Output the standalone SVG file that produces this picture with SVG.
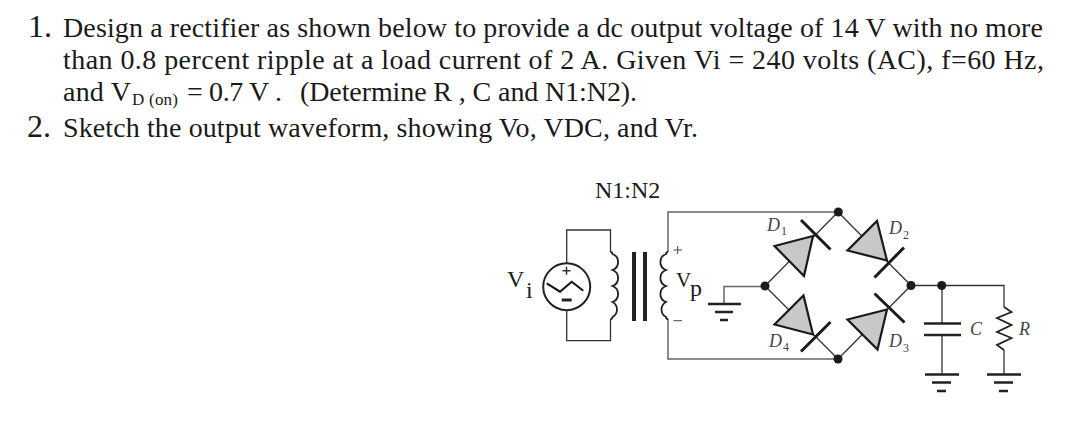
<svg xmlns="http://www.w3.org/2000/svg" width="1073" height="436" viewBox="0 0 1073 436">
<style>
text{font-family:"Liberation Serif","Times New Roman",serif;fill:#1a1a1a}
.t{font-size:28px}
.u{font-size:32px}
.w{fill:none;stroke:#333;stroke-width:1.3}
.c{fill:none;stroke:#222;stroke-width:1.800}
.g{fill:none;stroke:#666;stroke-width:1.500}
.b{fill:none;stroke:#1a1a1a;stroke-width:3}
.d{fill:#c8c8c8;stroke:#1a1a1a;stroke-width:2.200}
.n{fill:#1a1a1a}
.e{fill:none;stroke:#222;stroke-width:2.600}
.i{font-style:italic;font-size:18px;fill:#444}
.s{font-size:12px;fill:#444}
</style>
<rect width="1073" height="436" fill="#fff"/>
<g id="question">
<text class="u" x="28" y="37">1.</text>
<text class="t" x="63" y="37" textLength="980">Design a rectifier as shown below to provide a dc output voltage of 14 V with no more</text>
<text class="t" x="63" y="69" textLength="981">than 0.8 percent ripple at a load current of 2 A. Given Vi = 240 volts (AC), f=60 Hz,</text>
<text class="t" x="63" y="101" textLength="68">and V</text>
<text x="132" y="105" font-size="17" textLength="46">D (on)</text>
<text class="t" x="187" y="101" textLength="95">= 0.7 V .</text>
<text class="t" x="300" y="101" textLength="337">(Determine R , C and N1:N2).</text>
<text class="u" x="27" y="137">2.</text>
<text class="t" x="63" y="137" textLength="635">Sketch the output waveform, showing Vo, VDC, and Vr.</text>
</g>
<g id="connectors">
<path class="w" d="M566.700 263V230H610.500V252M610.500 319V340.700H566.700V311"/>
<path class="g" d="M668 252V212H838M668 319V359H838M724 304V286.500H765"/>
<path class="w" d="M838 212L765 286M838 212L911 285.500M765 286L838 359M838 359L911 285.500M911 285.500H1004V307M1004 350V374M942 285.500V323M942 335V374"/>
</g>
<g id="label-n1n2"><text x="595" y="198" font-size="24">N1:N2</text></g>
<g id="source">
<circle cx="566.700" cy="286.700" r="23.500" fill="#fff" stroke="#222" stroke-width="2"/>
<path d="M546.700 283.300L560 291.700L571.700 281.700L583.300 290.700" fill="none" stroke="#111" stroke-width="2"/>
<path d="M562.500 270.700H570.500M566.500 266.700V274.700" stroke="#333" stroke-width="1.500" fill="none"/>
<path d="M561.700 300H571.700" stroke="#222" stroke-width="3" fill="none"/>
<text x="507" y="287" font-size="24">V</text><text x="526" y="298" font-size="24">i</text>
</g>
<g id="transformer">
<path class="c" d="M610.500 252q2 0 2 2a8.500 8.500 0 0 1 0 16a8.500 8.500 0 0 1 0 16a8.500 8.500 0 0 1 0 16a8.500 8.500 0 0 1 0 15q0 2-2 2"/>
<path class="c" d="M668 252q-2 0-2 2a8.500 8.500 0 0 0 0 16a8.500 8.500 0 0 0 0 16a8.500 8.500 0 0 0 0 16a8.500 8.500 0 0 0 0 15q0 2 2 2"/>
<path d="M634 252V321M645 252V321" stroke="#222" stroke-width="4" fill="none"/>
<path d="M673.500 250H682M677.700 246V254M673.500 320.700H682" stroke="#444" stroke-width="1" fill="none"/>
<text x="676" y="287" font-size="21">V</text><text x="690" y="296" font-size="24">p</text>
</g>
<g id="ground-1"><path class="e" d="M708 304H741M715 312H733M720 320H728"/></g>
<g id="D1"><path class="d" d="M813 236L774.500 246L804 276Z"/><path class="b" d="M801 220L830.500 249.500"/><text class="i" x="767" y="231">D</text><text class="s" x="781" y="235">1</text></g>
<g id="D2"><path class="d" d="M887 260.500L847.500 250.500L877 221Z"/><path class="b" d="M874.500 277.500L904 247.500"/><text class="i" x="889" y="234">D</text><text class="s" x="903" y="239">2</text></g>
<g id="D3"><path class="d" d="M887 309.500L847.500 319.500L877.500 349.500Z"/><path class="b" d="M874.500 293.500L904.500 322.500"/><text class="i" x="889" y="347">D</text><text class="s" x="903" y="352">3</text></g>
<g id="D4"><path class="d" d="M813 334.500L774.500 324.500L803.500 295.500Z"/><path class="b" d="M801 351.500L830.500 322"/><text class="i" x="769" y="347">D</text><text class="s" x="783" y="351">4</text></g>
<g id="junctions"><circle class="n" cx="838.300" cy="212" r="4.500"/><circle class="n" cx="765" cy="286" r="4.500"/><circle class="n" cx="911" cy="285.500" r="4.500"/><circle class="n" cx="838" cy="359" r="4.500"/><circle class="n" cx="941.700" cy="285.500" r="4.500"/></g>
<g id="capacitor"><path d="M924 323.500H961M924 335H961" stroke="#222" stroke-width="2.500"/><text class="i" x="970" y="335">C</text></g>
<g id="resistor"><path class="c" d="M1004 307L1011.500 312L997 318L1011.500 325L997 332L1011.500 338L997 345L1004 350"/><text class="i" x="1019" y="335">R</text></g>
<g id="ground-2"><path class="e" d="M925 374.500H959M932 382.500H951M937 391H946"/></g>
<g id="ground-3"><path class="e" d="M987 374.500H1021M994 382.500H1013M999 391H1008"/></g>
</svg>
